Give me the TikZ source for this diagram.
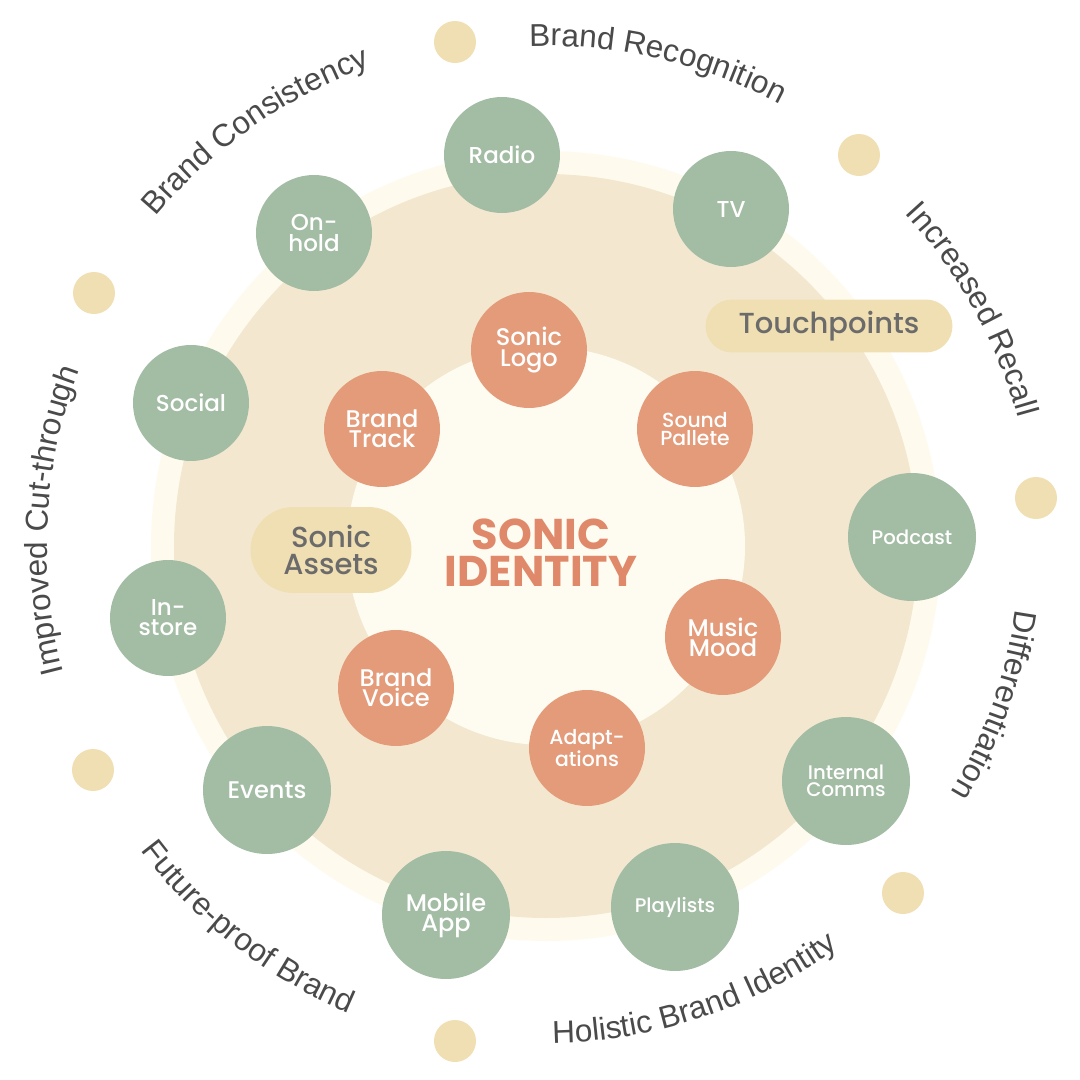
\documentclass[tikz,border=0pt]{standalone}
\usepackage{fontspec}
\setmainfont{Poppins}
\newfontfamily\popmed{Poppins}[UprightFont=*-Medium]
\newfontfamily\labfont{Liberation Sans}
\usetikzlibrary{decorations.text,shapes.misc}

\definecolor{sage}{HTML}{A3BCA4}
\definecolor{coral}{HTML}{E39B7A}
\definecolor{coraltext}{HTML}{E0886A}
\definecolor{palering}{HTML}{FEFBEE}
\definecolor{midring}{HTML}{F3E8CF}
\definecolor{corering}{HTML}{FEFCF1}
\definecolor{sand}{HTML}{F0DFB2}
\definecolor{pilltext}{HTML}{6B6B6B}
\definecolor{ink}{HTML}{4A4A4A}

% label along the outer ring, clockwise (tops outward) / counter-clockwise (tops inward)
\def\cwlabel(#1:#2)#3{\path[decorate,decoration={text along path,text align=center,text color=ink,text={|\labfont\fontsize{18}{21}\selectfont|#3}}] ({#1+40}:#2) arc[start angle={#1+40},end angle={#1-40},radius=#2];}
\def\ccwlabel(#1:#2)#3{\path[decorate,decoration={text along path,text align=center,text color=ink,text={|\labfont\fontsize{18}{21}\selectfont|#3}}] ({#1-40}:#2) arc[start angle={#1-40},end angle={#1+40},radius=#2];}

\tikzset{
  greennode/.style={circle, fill=sage, text=white, minimum size=2.32cm, inner sep=0pt, align=center, font=\popmed\fontsize{13.1}{11.4}\selectfont},
  greenbig/.style={greennode, minimum size=2.56cm, font=\popmed\fontsize{13.7}{11.4}\selectfont},
  greensmall/.style={greennode, minimum size=2.56cm, font=\popmed\fontsize{11.2}{9.7}\selectfont},
  coralnode/.style={circle, fill=coral, text=white, minimum size=2.32cm, inner sep=0pt, align=center, font=\popmed\fontsize{13.7}{11.4}\selectfont},
  coralsmall/.style={coralnode, font=\popmed\fontsize{11.6}{10.2}\selectfont},
  pill/.style={rounded rectangle, fill=sand, text=pilltext, inner sep=0pt, align=center, font=\popmed\fontsize{16.5}{15.4}\selectfont},
  centre/.style={text=coraltext, align=center, inner sep=0pt, font=\bfseries\fontsize{24.5}{21}\selectfont}
}

\begin{document}
\begin{tikzpicture}[x=0.02cm,y=0.02cm]
%%%%% START %%%%%
\fill[white] (-546,-534) rectangle (534,546);
\useasboundingbox (-546,-534) rectangle (534,546);

% rings
\fill[palering] (0,0) circle (395);
\fill[midring] (0,0) circle (372);
\fill[corering] (0,0) circle (199);

% small dots
\foreach \dx/\dy in {-91/504, 313/391, -452/253, 490/48, -453/-224, 357/-347, -91/-495}
  \fill[sand] (\dx,\dy) circle (21);

% benefits
\cwlabel(125:511){Brand Consistency}
\cwlabel(77:500){Brand Recognition}
\cwlabel(29:489){Increased Recall}
\cwlabel(-19.5:474){Differentiation}
\cwlabel(177:499){Improved Cut-through}
\ccwlabel(-71.6:497){Holistic Brand Identity}
\ccwlabel(232:507){Future-proof Brand}

% pills
\node[pill, minimum width=4.94cm, minimum height=1.06cm] (touch) at (283,220) {Touchpoints};
\node[pill, minimum width=3.22cm, minimum height=1.72cm] (assets) at (-215,-4) {Sonic\\Assets};

% touchpoints
\node[greennode] (radio) at (-44,391) {Radio};
\node[greennode] (tv) at (185,337) {TV};
\node[greennode] (onhold) at (-232,313) {On-\\hold};
\node[greennode] (social) at (-355,143) {Social};
\node[greennode] (instore) at (-378,-72) {In-\\store};
\node[greenbig] (events) at (-279,-244) {Events};
\node[greenbig] (mobile) at (-100,-369) {Mobile\\App};
\node[greensmall] (playlists) at (129,-361) {Playlists};
\node[greensmall] (comms) at (300,-235) {Internal\\Comms};
\node[greensmall] (podcast) at (366,9) {Podcast};

% sonic assets
\node[coralnode] (logo) at (-17,196) {Sonic\\Logo};
\node[coralsmall] (pallete) at (149,117) {Sound\\Pallete};
\node[coralnode] (track) at (-164,117) {Brand\\Track};
\node[coralnode] (mood) at (177,-91) {Music\\Mood};
\node[coralnode] (voice) at (-150,-142) {Brand\\Voice};
\node[coralsmall] (adapt) at (41,-202) {Adapt-\\ations};

\node[centre] (identity) at (-5,-7) {SONIC\\IDENTITY};
%%%%% END %%%%%
\end{tikzpicture}
\end{document}
